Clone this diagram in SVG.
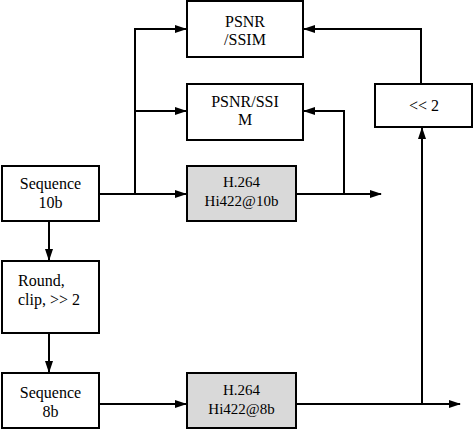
<svg xmlns="http://www.w3.org/2000/svg" width="474" height="430" viewBox="0 0 474 430">
<style>
.box{fill:#fff;stroke:#000;stroke-width:2}
.gray{fill:#d9d9d9;stroke:#000;stroke-width:2}
.c{fill:none;stroke:#000;stroke-width:2}
</style>
<defs>
<marker id="a" markerWidth="12" markerHeight="10" refX="11" refY="5" orient="auto" markerUnits="userSpaceOnUse">
<path d="M0,1 L12,5 L0,9 Z" fill="#000"/>
</marker>
</defs>
<g font-family="Liberation Serif, DejaVu Serif, serif" font-size="16" text-anchor="middle" fill="#000">
<g id="psnr1"><rect class="box" x="187" y="1" width="116" height="56"/><text x="245" y="27">PSNR</text><text x="245" y="45">/SSIM</text></g>
<g id="psnr2"><rect class="box" x="187" y="84" width="116" height="56"/><text x="245" y="107">PSNR/SSI</text><text x="245" y="125">M</text></g>
<g id="shift"><rect class="box" x="375" y="84" width="97" height="43"/><text x="424" y="111">&lt;&lt; 2</text></g>
<g id="h264_10"><rect class="gray" x="187" y="166" width="109" height="55"/><text font-size="15" x="241.5" y="187">H.264</text><text font-size="15" x="241.5" y="206">Hi422@10b</text></g>
<g id="seq10"><rect class="box" x="2" y="166" width="97" height="55"/><text x="50.5" y="189">Sequence</text><text x="50.5" y="208">10b</text></g>
<g id="round"><rect class="box" x="2" y="261" width="97" height="72"/><text x="18" y="286" text-anchor="start">Round,</text><text x="18" y="305" text-anchor="start">clip, &gt;&gt; 2</text></g>
<g id="seq8"><rect class="box" x="2" y="373" width="97" height="55"/><text x="50.5" y="398">Sequence</text><text x="50.5" y="417">8b</text></g>
<g id="h264_8"><rect class="gray" x="187" y="373" width="109" height="55"/><text font-size="15" x="241.5" y="395">H.264</text><text font-size="15" x="241.5" y="414">Hi422@8b</text></g>
</g>
<g id="connectors">
<path class="c" d="M99,194 H186" marker-end="url(#a)"/>
<path class="c" d="M135,194 V29 H186" marker-end="url(#a)"/>
<path class="c" d="M135,111 H186" marker-end="url(#a)"/>
<path class="c" d="M296,194 H381" marker-end="url(#a)"/>
<path class="c" d="M344,194 V111 H304" marker-end="url(#a)"/>
<path class="c" d="M421,84 V29 H304" marker-end="url(#a)"/>
<path class="c" d="M296,404 H460" marker-end="url(#a)"/>
<path class="c" d="M422,404 V128" marker-end="url(#a)"/>
<path class="c" d="M49,221 V260" marker-end="url(#a)"/>
<path class="c" d="M49,333 V372" marker-end="url(#a)"/>
<path class="c" d="M99,404 H186" marker-end="url(#a)"/>
</g>
</svg>
